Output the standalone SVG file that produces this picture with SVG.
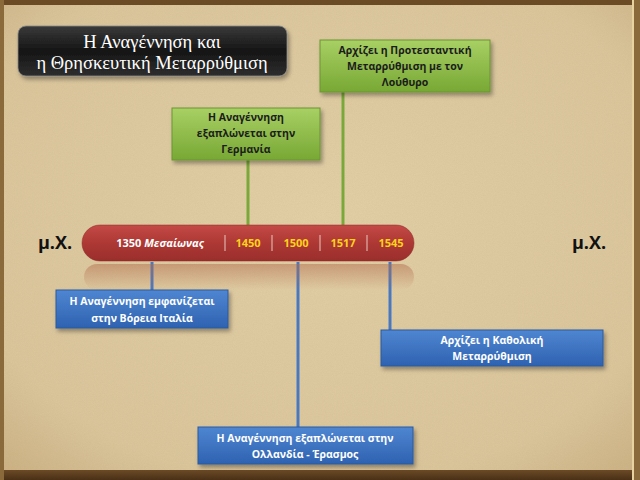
<svg xmlns="http://www.w3.org/2000/svg" width="640" height="480" viewBox="0 0 640 480">
<defs>
  <radialGradient id="bg" cx="50%" cy="45%" r="75%">
    <stop offset="0" stop-color="#e2cfa6"/>
    <stop offset="0.75" stop-color="#dac59b"/>
    <stop offset="1" stop-color="#c9ae80"/>
  </radialGradient>
  <filter id="grain" x="0" y="0" width="100%" height="100%">
    <feTurbulence type="fractalNoise" baseFrequency="0.9" numOctaves="2" seed="3"/>
    <feColorMatrix type="matrix" values="0 0 0 0 0.45  0 0 0 0 0.35  0 0 0 0 0.2  0 0 0 0.5 -0.1"/>
  </filter>
  <linearGradient id="title" x1="0" y1="0" x2="0" y2="1">
    <stop offset="0" stop-color="#3a3a3a"/>
    <stop offset="0.5" stop-color="#151515"/>
    <stop offset="1" stop-color="#2e2e2e"/>
  </linearGradient>
  <linearGradient id="green" x1="0" y1="0" x2="0" y2="1">
    <stop offset="0" stop-color="#a8d064"/>
    <stop offset="1" stop-color="#78a834"/>
  </linearGradient>
  <linearGradient id="blue" x1="0" y1="0" x2="0" y2="1">
    <stop offset="0" stop-color="#4f86d2"/>
    <stop offset="1" stop-color="#2e62b0"/>
  </linearGradient>
  <linearGradient id="red" x1="0" y1="0" x2="0" y2="1">
    <stop offset="0" stop-color="#c44a46"/>
    <stop offset="0.5" stop-color="#ad3834"/>
    <stop offset="1" stop-color="#9a2e2b"/>
  </linearGradient>
  <linearGradient id="refl" x1="0" y1="0" x2="0" y2="1">
    <stop offset="0" stop-color="#b06a4a" stop-opacity="0.5"/>
    <stop offset="1" stop-color="#b06a4a" stop-opacity="0"/>
  </linearGradient>
  <linearGradient id="wood" x1="0" y1="0" x2="0" y2="1">
    <stop offset="0" stop-color="#6b4a26"/>
    <stop offset="1" stop-color="#4a3016"/>
  </linearGradient>
  <filter id="sh" x="-10%" y="-10%" width="130%" height="140%">
    <feDropShadow dx="2" dy="3" stdDeviation="2" flood-color="#000" flood-opacity="0.35"/>
  </filter>
  <style>
    .box { font-family: "Open Sans", "Liberation Sans", sans-serif; font-weight: bold; font-size: 10.5px; text-anchor: middle; }
    .g text { fill: #1c1c1c; }
    .b text { fill: #ffffff; }
    .yr { font-family: "Open Sans", "Liberation Sans", sans-serif; font-weight: bold; font-size: 11px; fill: #ffd21a; text-anchor: middle; }
    .mx { font-family: "Open Sans", "Liberation Sans", sans-serif; font-weight: bold; font-size: 18px; fill: #111; text-anchor: middle; }
    .gl { stroke: #7aa83a; stroke-width: 3; }
    .bl { stroke: #4a78c0; stroke-width: 3; }
    .sep { stroke: #e8c8c0; stroke-width: 1; }
    .tt { font-family: "Liberation Serif", "DejaVu Serif", serif; font-size: 18.5px; fill: #fff; text-anchor: middle; }
  </style>
</defs>

<rect width="640" height="480" fill="url(#bg)"/>
<rect width="640" height="480" filter="url(#grain)" opacity="0.3"/>
<rect x="0" y="0" width="640" height="5" fill="#6b4a26"/>
<rect x="0" y="470" width="640" height="10" fill="url(#wood)"/>
<rect x="0" y="0" width="4" height="480" fill="#8a6a3a"/>
<rect x="634" y="0" width="6" height="480" fill="#8a6a3a"/>
<rect x="632" y="0" width="2" height="480" fill="#e8d2a0"/>

<g id="title">
  <rect x="18" y="26" width="269" height="50" rx="8" fill="url(#title)" stroke="#888" stroke-width="0.8" filter="url(#sh)"/>
  <text class="tt" x="152" y="48">Η Αναγέννηση και</text>
  <text class="tt" x="152" y="69">η Θρησκευτική Μεταρρύθμιση</text>
</g>

<g id="connectors">
  <line class="gl" x1="248" y1="160" x2="248" y2="226"/>
  <line class="gl" x1="343" y1="92" x2="343" y2="226"/>
  <line class="bl" x1="152" y1="262" x2="152" y2="291"/>
  <line class="bl" x1="298" y1="262" x2="298" y2="428"/>
  <line class="bl" x1="390" y1="262" x2="390" y2="331"/>
</g>

<g id="timeline">
  <rect x="84" y="264" width="330" height="26" rx="13" fill="url(#refl)"/>
  <rect x="82" y="225" width="332" height="36" rx="18" fill="url(#red)" stroke="#8a2a26" stroke-width="0.5"/>
  <text x="160" y="247" font-family="'Open Sans', 'Liberation Sans', sans-serif" font-weight="bold" font-size="11" fill="#fff" text-anchor="middle">1350 <tspan font-style="italic">Μεσαίωνας</tspan></text>
  <line class="sep" x1="225" y1="235" x2="225" y2="251"/>
  <line class="sep" x1="272" y1="235" x2="272" y2="251"/>
  <line class="sep" x1="320" y1="235" x2="320" y2="251"/>
  <line class="sep" x1="367" y1="235" x2="367" y2="251"/>
  <text class="yr" x="248" y="247">1450</text>
  <text class="yr" x="296" y="247">1500</text>
  <text class="yr" x="343" y="247">1517</text>
  <text class="yr" x="391" y="247">1545</text>
</g>

<g id="mx-left"><text class="mx" x="55" y="249">μ.Χ.</text></g>
<g id="mx-right"><text class="mx" x="589" y="249">μ.Χ.</text></g>

<g id="g1" class="g box">
  <rect x="320" y="40" width="170" height="52" fill="url(#green)" stroke="#6a9530" stroke-width="1" filter="url(#sh)"/>
  <text x="405" y="54">Αρχίζει η Προτεσταντική</text>
  <text x="405" y="70">Μεταρρύθμιση με τον</text>
  <text x="405" y="86">Λούθυρο</text>
</g>

<g id="g2" class="g box">
  <rect x="172" y="108" width="148" height="52" fill="url(#green)" stroke="#6a9530" stroke-width="1" filter="url(#sh)"/>
  <text x="246" y="121">Η Αναγέννηση</text>
  <text x="246" y="137">εξαπλώνεται στην</text>
  <text x="246" y="153">Γερμανία</text>
</g>

<g id="b1" class="b box">
  <rect x="56" y="290" width="172" height="38" fill="url(#blue)" stroke="#2a5aa0" stroke-width="1" filter="url(#sh)"/>
  <text x="142" y="305">Η Αναγέννηση εμφανίζεται</text>
  <text x="142" y="322">στην Βόρεια Ιταλία</text>
</g>

<g id="b2" class="b box">
  <rect x="381" y="330" width="222" height="36" fill="url(#blue)" stroke="#2a5aa0" stroke-width="1" filter="url(#sh)"/>
  <text x="492" y="344">Αρχίζει η Καθολική</text>
  <text x="492" y="360">Μεταρρύθμιση</text>
</g>

<g id="b3" class="b box">
  <rect x="198" y="427" width="215" height="37" fill="url(#blue)" stroke="#2a5aa0" stroke-width="1" filter="url(#sh)"/>
  <text x="305" y="442">Η Αναγέννηση εξαπλώνεται στην</text>
  <text x="305" y="458">Ολλανδία - Έρασμος</text>
</g>
</svg>
